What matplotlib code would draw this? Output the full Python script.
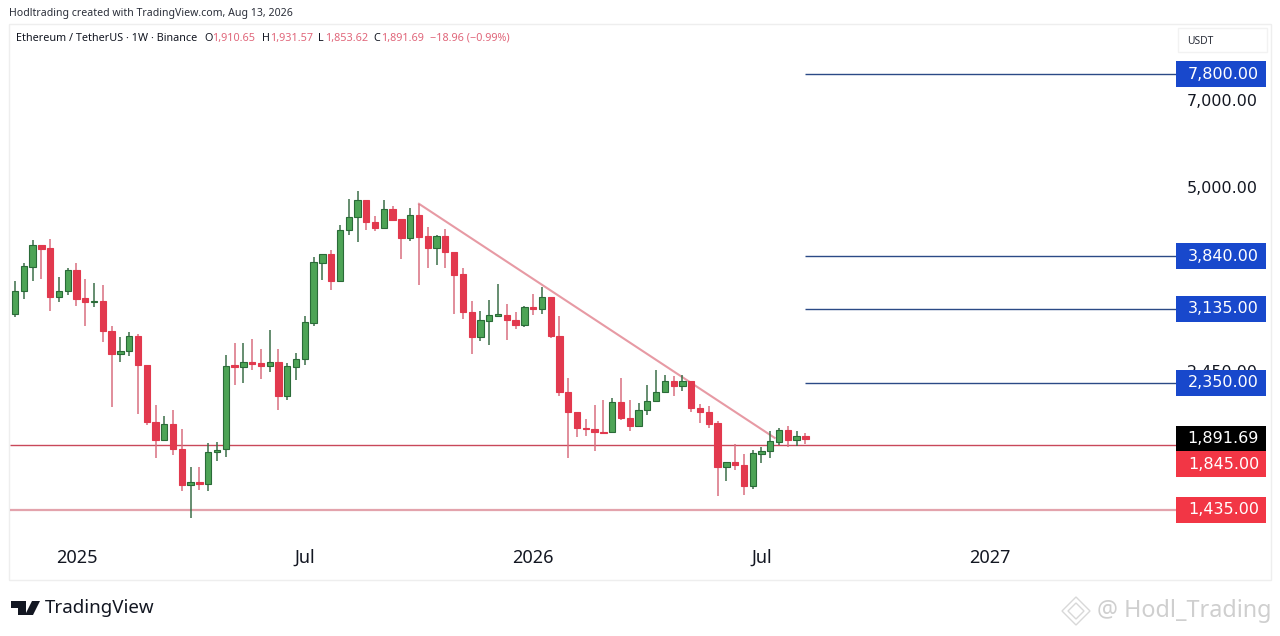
import matplotlib
matplotlib.use('Agg')
import matplotlib.pyplot as plt
from matplotlib.patches import Rectangle, Polygon
from matplotlib.ticker import NullLocator, FuncFormatter
import numpy as np

W, H = 1280, 636

# weekly ETH/USDT candles
opens = [3070, 3361, 3693, 4007, 3967, 3286, 3361, 3637, 3265, 3215, 3231, 2870, 2631, 2655, 2822, 2521,
         2018, 1885, 2005, 1815, 1582, 1600, 1588, 1794, 1817, 2518, 2502, 2550, 2543, 2511, 2550, 2229,
         2502, 2576, 2971, 3750, 3880, 3488, 4248, 4473, 4782, 4397, 4293, 4616, 4448, 4127, 4509, 4155,
         3972, 4155, 3910, 3586, 3094, 2803, 2993, 3049, 3061, 3005, 2948, 3155, 3131, 3286, 2814, 2271,
         2095, 1972, 1961, 1941, 1941, 2181, 2054, 1989, 2115, 2192, 2265, 2371, 2321, 2371, 2131, 2101,
         2012, 1695, 1731, 1711, 1576, 1786, 1805, 1871, 1957, 1883, 1910.65]
highs = [3496, 3741, 4094, 4007, 4111, 3552, 3671, 3741, 3523, 3462, 3436, 2926, 2803, 2859, 2844, 2521,
         2153, 2070, 2118, 1964, 1695, 1695, 1860, 1871, 2621, 2743, 2743, 2792, 2683, 2886, 2683, 2537,
         2639, 3049, 3829, 3880, 3930, 4342, 4795, 4956, 4782, 4497, 4782, 4675, 4448, 4634, 4711, 4298,
         4177, 4271, 3910, 3671, 3231, 3102, 3243, 3449, 3191, 3089, 3170, 3318, 3409, 3286, 3053, 2399,
         2095, 2041, 2159, 2200, 2215, 2393, 2200, 2173, 2333, 2473, 2425, 2409, 2425, 2371, 2167, 2145,
         2027, 1731, 1853, 1782, 1812, 1832, 1946, 1972, 1989, 1951, 1931.57]
lows = [3033, 3256, 3496, 3515, 3110, 3222, 3308, 3162, 2926, 3150, 2753, 2136, 2553, 2611, 2085, 1992,
        1758, 1878, 1775, 1542, 1390, 1548, 1542, 1737, 1761, 2333, 2348, 2473, 2384, 2455, 2118, 2200,
        2377, 2518, 2934, 3505, 3365, 3488, 4177, 4068, 4260, 4232, 4293, 4425, 3803, 4079, 3439, 3675,
        3717, 3675, 3070, 3013, 2628, 2770, 2725, 3033, 2780, 2900, 2919, 3061, 3074, 2799, 2235, 1754,
        1903, 1913, 1802, 1929, 1941, 2035, 1946, 1989, 2076, 2181, 2265, 2235, 2273, 2095, 2010, 1972,
        1516, 1608, 1677, 1518, 1558, 1720, 1754, 1848, 1832, 1836, 1853.62]
closes = [3361, 3703, 4007, 3956, 3286, 3361, 3637, 3260, 3215, 3231, 2870, 2631, 2663, 2822, 2521, 2018,
          1885, 2005, 1815, 1582, 1600, 1588, 1794, 1812, 2514, 2502, 2550, 2533, 2511, 2550, 2229, 2505,
          2576, 2975, 3755, 3880, 3488, 4260, 4479, 4782, 4392, 4293, 4616, 4425, 4127, 4509, 4144, 3972,
          4155, 3900, 3580, 3094, 2807, 2998, 3058, 3065, 3005, 2948, 3150, 3126, 3286, 2814, 2271, 2095,
          1969, 1961, 1941, 1936, 2181, 2054, 1989, 2115, 2192, 2268, 2371, 2321, 2371, 2128, 2098, 2007,
          1695, 1731, 1710, 1576, 1789, 1807, 1874, 1957, 1883, 1913, 1891.69]

price_ticks = [2450, 5000, 7000]
week_ticks = [7, 33, 59, 85, 111]
week_labels = ['2025', 'Jul', '2026', 'Jul', '2027']
blue_levels = [7800, 3840, 3135, 2350]
red_levels = [1845, 1435]
last_close = 1891.69
trend_weeks = [46, 86.5]
trend_prices = [4711, 1898]

UP, UP_EDGE, UP_WICK = '#4da456', '#2a6b38', '#3c6f49'
DOWN, DOWN_WICK = '#e2394e', '#d96f80'
BLUE = '#1848cc'
RED = '#f23645'


def fx(x):
    return x / W


def fy(y):
    return 1 - y / H


fig = plt.figure(figsize=(W / 100, H / 100), dpi=100, facecolor='white')
ax = fig.add_axes([fx(10), fy(545), (1176 - 10) / W, (545 - 24) / H])
ax.set_facecolor('none')
ax.set_yscale('log')
ax.set_xlim(-0.57, 132.2)
ax.set_ylim(1252, 9472)

weeks = np.arange(len(opens))
o, h, l, c = map(np.array, (opens, highs, lows, closes))
up = c >= o
top = np.maximum(o, c)
bot = np.minimum(o, c)

ax.hlines(red_levels[0], -0.57, 132.2, color='#c9485a', lw=1.0, zorder=1)
ax.hlines(red_levels[1], -0.57, 132.2, color='#e3a3ac', lw=1.6, zorder=1)
ax.hlines(blue_levels, 90, 132.2, color='#2b4a86', lw=1.0, zorder=1)
ax.plot(trend_weeks, trend_prices, color='#e79aa4', lw=1.5, zorder=1)

ax.vlines(weeks[up], l[up], h[up], color=UP_WICK, lw=1.1, zorder=2)
ax.vlines(weeks[~up], l[~up], h[~up], color=DOWN_WICK, lw=1.1, zorder=2)
ax.bar(weeks[up], (top - bot)[up], bottom=bot[up], width=0.72, color=UP, edgecolor=UP_EDGE, lw=0.8, zorder=3)
ax.bar(weeks[~up], (top - bot)[~up], bottom=bot[~up], width=0.72, color=DOWN, edgecolor=DOWN, lw=0.8, zorder=3)

for s in ax.spines.values():
    s.set_visible(False)
ax.yaxis.tick_right()
ax.set_yticks(price_ticks)
ax.yaxis.set_minor_locator(NullLocator())
ax.yaxis.set_major_formatter(FuncFormatter(lambda v, p: f'{v:,.2f}'))
ax.tick_params(axis='y', length=0, pad=8, labelsize=11.5, labelcolor='#131722')
for t in ax.get_yticklabels():
    t.set_verticalalignment('center')
ax.set_xticks(week_ticks)
ax.set_xticklabels(week_labels, fontfamily='Noto Sans', fontweight='semibold', fontsize=13, color='#131722')
ax.tick_params(axis='x', length=0, pad=3)

# chart frame
fig.add_artist(Rectangle((fx(9), fy(580)), (1271 - 9) / W, (580 - 24) / H, transform=fig.transFigure,
                         fc='none', ec='#eeeeee', lw=1.0, zorder=0))
fig.add_artist(Rectangle((fx(1178), fy(52)), 89 / W, 24 / H, transform=fig.transFigure,
                         fc='white', ec='#f2f2f2', lw=1.0))
fig.text(fx(1187), fy(41), 'USDT', fontfamily='Noto Sans', fontsize=7.4, color='#2a2e39', va='center')


def price_box(price, color, shift=0):
    # label on the price scale, drawn over the tick text
    y = H - ax.transData.transform((0, price))[1] + shift
    fig.add_artist(Rectangle((fx(1176), fy(y + 13)), 90 / W, 26 / H, transform=fig.transFigure,
                             fc=color, ec='none', zorder=5))
    fig.text(fx(1259), fy(y), f'{price:,.2f}', color='white', fontsize=11.5, ha='right', va='center', zorder=6)


for p in blue_levels:
    price_box(p, BLUE)
price_box(last_close, 'black')
price_box(red_levels[0], RED, shift=19)
price_box(red_levels[1], RED)

# header texts
fig.text(fx(9), fy(13.5), 'Hodltrading created with TradingView.com, Aug 13, 2026', fontfamily='Noto Sans',
         fontsize=7.6, color='#2a2e39', va='center')
fig.text(fx(16), fy(38.5), 'Ethereum / TetherUS · 1W · Binance', fontfamily='Noto Sans', fontsize=7.8,
         color='#131722', va='center')
legend_x = [204, 212, 262, 270, 318, 325, 373, 381, 430]
legend_s = ['O', '1,910.65', 'H', '1,931.57', 'L', '1,853.62', 'C', '1,891.69', '−18.96 (−0.99%)']
for i, (x, s) in enumerate(zip(legend_x, legend_s)):
    col = '#131722' if i % 2 == 0 and i < 8 else '#e0667a'
    fig.text(fx(x), fy(38.5), s, fontfamily='Noto Sans', fontsize=7.8, color=col, va='center')

# TradingView logo
logo_t = [(11, 601), (26, 601), (26, 615), (18, 615), (18, 608), (11, 608)]
logo_v = [(32, 601), (40, 601), (33, 615), (25, 615)]
fig.add_artist(Polygon([(fx(x), fy(y)) for x, y in logo_t], transform=fig.transFigure, fc='#131722', ec='none'))
fig.add_artist(Polygon([(fx(x), fy(y)) for x, y in logo_v], transform=fig.transFigure, fc='#131722', ec='none'))
fig.text(fx(45), fy(608), 'TradingView', fontfamily='Noto Sans', fontweight='bold', fontsize=13.5,
         color='#131722', va='center')

# watermark
for r in (14, 8):
    pts = [(1076 - r, 611), (1076, 611 - r), (1076 + r, 611), (1076, 611 + r)]
    fig.add_artist(Polygon([(fx(x), fy(y)) for x, y in pts], transform=fig.transFigure, fc='none',
                           ec='#d8d8d8', lw=1.0))
fig.text(fx(1097), fy(611), '@ Hodl_Trading', fontfamily='Noto Sans', fontsize=16.8, color='#cfcfcf', va='center')

fig.savefig('out.png', dpi=100)
